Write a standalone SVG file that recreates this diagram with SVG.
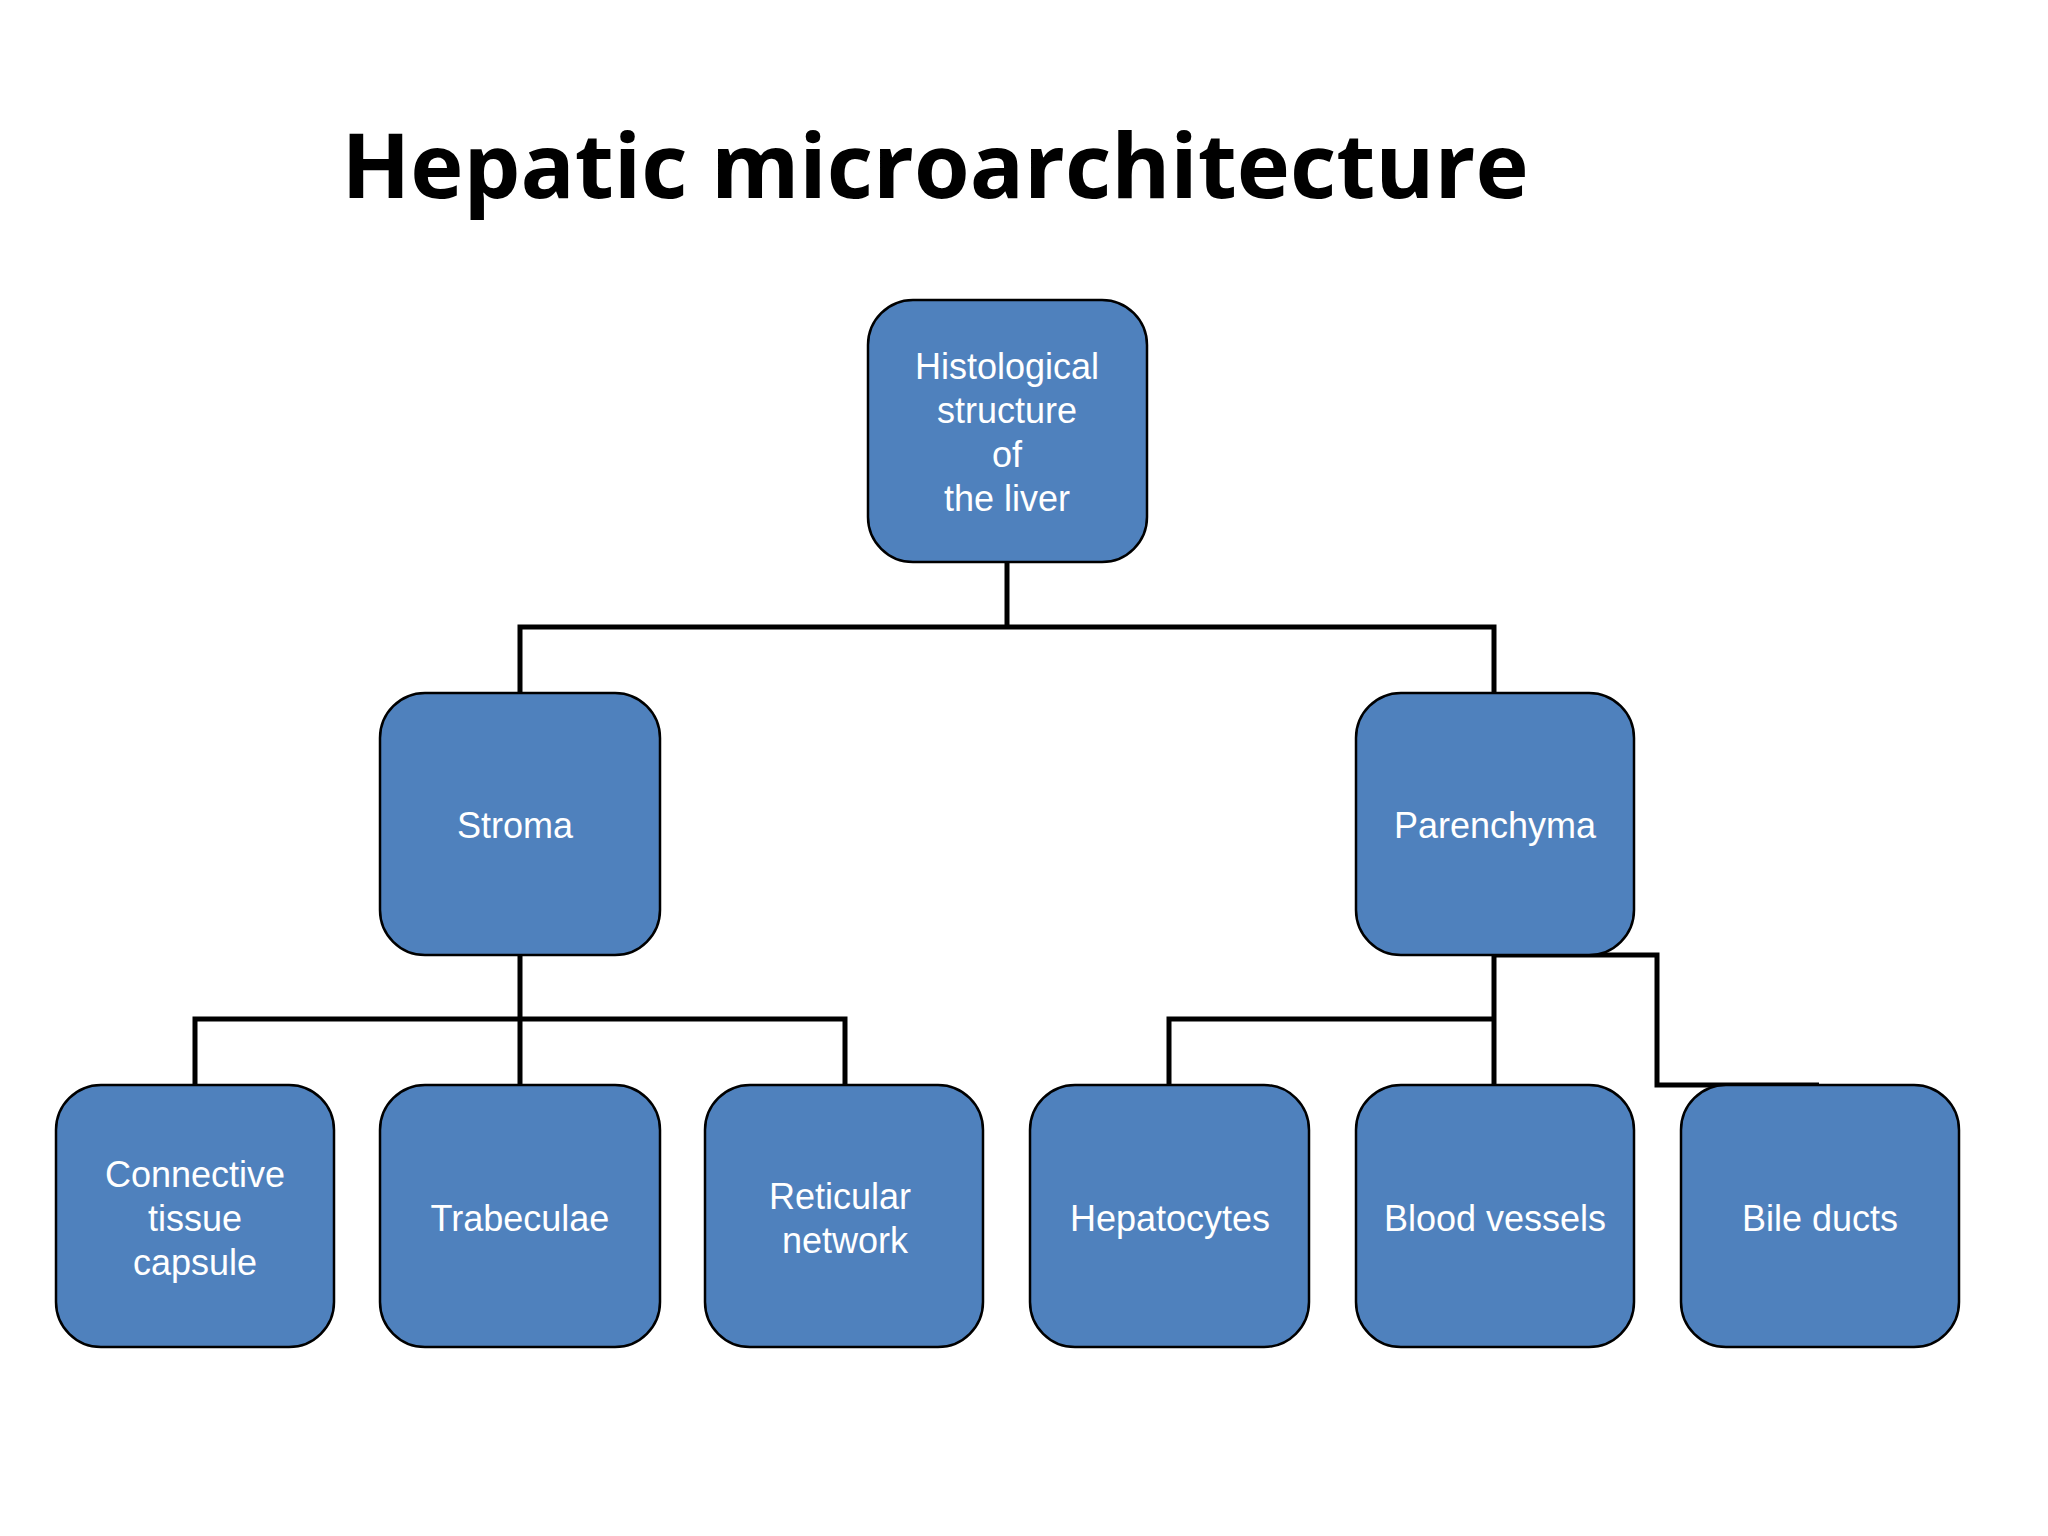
<svg xmlns="http://www.w3.org/2000/svg" width="2048" height="1536" viewBox="0 0 2048 1536">
<style>
.box{fill:#4f81bd;stroke:#000;stroke-width:2.5}
.t{font-family:"Liberation Sans",Arial,sans-serif;font-size:36px;fill:#fff;text-anchor:middle}
.c{fill:none;stroke:#000;stroke-width:5}
</style>
<rect width="2048" height="1536" fill="#fff"/>
<text x="935" y="198" font-family="'Open Sans','Liberation Sans',sans-serif" font-weight="bold" font-size="90" text-anchor="middle" fill="#000">Hepatic microarchitecture</text>
<g id="connectors">
<path class="c" d="M1007 562V627M520 693V627H1494V693"/>
<path class="c" d="M520 955V1085M195 1085V1019H845V1085"/>
<path class="c" d="M1494 955V1085M1169 1085V1019H1494M1494 955H1657V1085H1819"/>
</g>
<g id="root"><rect class="box" x="868" y="300" width="279" height="262" rx="45"/><text class="t" x="1007" y="379">Histological</text><text class="t" x="1007" y="423">structure</text><text class="t" x="1007" y="467">of</text><text class="t" x="1007" y="511">the liver</text></g>
<g id="stroma"><rect class="box" x="380" y="693" width="280" height="262" rx="45"/><text class="t" x="515" y="838">Stroma</text></g>
<g id="parenchyma"><rect class="box" x="1356" y="693" width="278" height="262" rx="45"/><text class="t" x="1495" y="838">Parenchyma</text></g>
<g id="capsule"><rect class="box" x="56" y="1085" width="278" height="262" rx="45"/><text class="t" x="195" y="1187">Connective</text><text class="t" x="195" y="1231">tissue</text><text class="t" x="195" y="1275">capsule</text></g>
<g id="trabeculae"><rect class="box" x="380" y="1085" width="280" height="262" rx="45"/><text class="t" x="520" y="1231">Trabeculae</text></g>
<g id="reticular"><rect class="box" x="705" y="1085" width="278" height="262" rx="45"/><text class="t" x="840" y="1209">Reticular</text><text class="t" x="845" y="1253">network</text></g>
<g id="hepatocytes"><rect class="box" x="1030" y="1085" width="279" height="262" rx="45"/><text class="t" x="1170" y="1231">Hepatocytes</text></g>
<g id="blood"><rect class="box" x="1356" y="1085" width="278" height="262" rx="45"/><text class="t" x="1495" y="1231">Blood vessels</text></g>
<g id="bile"><rect class="box" x="1681" y="1085" width="278" height="262" rx="45"/><text class="t" x="1820" y="1231">Bile ducts</text></g>
</svg>
